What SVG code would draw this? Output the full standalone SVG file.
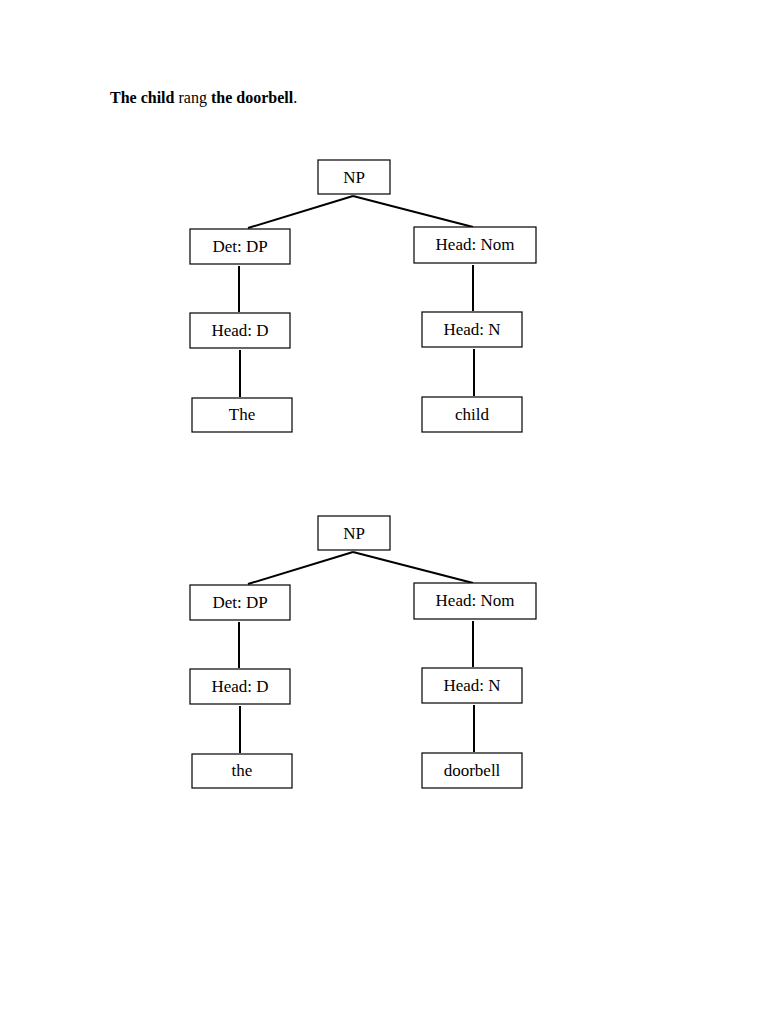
<svg xmlns="http://www.w3.org/2000/svg" width="768" height="1024" viewBox="0 0 768 1024">
<style>
rect{fill:#fff;stroke:#000;stroke-width:1.2}
text{font-family:"Liberation Serif",serif;font-size:17px;text-anchor:middle}
.c line{stroke:#000;stroke-width:2}
</style>
<rect x="0" y="0" width="768" height="1024" style="stroke:none"/>
<text x="110" y="103" style="text-anchor:start;font-size:16px"><tspan font-weight="bold">The child</tspan> rang <tspan font-weight="bold">the doorbell</tspan>.</text>
<g id="tree1">
<g class="c">
<line x1="353" y1="196" x2="248" y2="228"/><line x1="353" y1="196" x2="473" y2="227"/>
<line x1="239" y1="266" x2="239" y2="312"/><line x1="240" y1="350" x2="240" y2="397"/>
<line x1="473" y1="265" x2="473" y2="311"/><line x1="474" y1="349" x2="474" y2="396"/>
</g>
<g id="np1"><rect x="318" y="160" width="72" height="34"/><text x="354" y="183">NP</text></g>
<g id="det1"><rect x="190" y="229" width="100" height="35"/><text x="240" y="252">Det: DP</text></g>
<g id="nom1"><rect x="414" y="227" width="122" height="36"/><text x="475" y="250">Head: Nom</text></g>
<g id="hd1"><rect x="190" y="313" width="100" height="35"/><text x="240" y="336">Head: D</text></g>
<g id="hn1"><rect x="422" y="312" width="100" height="35"/><text x="472" y="335">Head: N</text></g>
<g id="w1"><rect x="192" y="398" width="100" height="34"/><text x="242" y="420">The</text></g>
<g id="w2"><rect x="422" y="397" width="100" height="35"/><text x="472" y="420">child</text></g>
</g>
<g id="tree2" transform="translate(0,356)">
<g class="c">
<line x1="353" y1="196" x2="248" y2="228"/><line x1="353" y1="196" x2="473" y2="227"/>
<line x1="239" y1="266" x2="239" y2="312"/><line x1="240" y1="350" x2="240" y2="397"/>
<line x1="473" y1="265" x2="473" y2="311"/><line x1="474" y1="349" x2="474" y2="396"/>
</g>
<g id="np2"><rect x="318" y="160" width="72" height="34"/><text x="354" y="183">NP</text></g>
<g id="det2"><rect x="190" y="229" width="100" height="35"/><text x="240" y="252">Det: DP</text></g>
<g id="nom2"><rect x="414" y="227" width="122" height="36"/><text x="475" y="250">Head: Nom</text></g>
<g id="hd2"><rect x="190" y="313" width="100" height="35"/><text x="240" y="336">Head: D</text></g>
<g id="hn2"><rect x="422" y="312" width="100" height="35"/><text x="472" y="335">Head: N</text></g>
<g id="w3"><rect x="192" y="398" width="100" height="34"/><text x="242" y="420">the</text></g>
<g id="w4"><rect x="422" y="397" width="100" height="35"/><text x="472" y="420">doorbell</text></g>
</g>
</svg>
